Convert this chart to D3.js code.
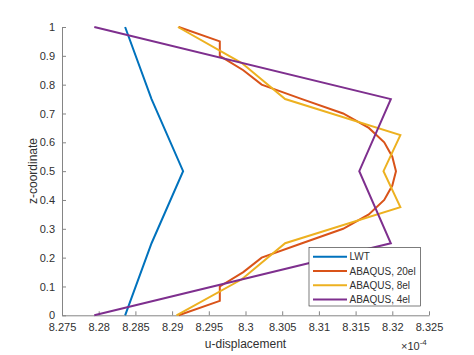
<!DOCTYPE html>
<html><head><meta charset="utf-8">
<script src="https://cdn.jsdelivr.net/npm/d3@7"></script>
<style>
html,body{margin:0;padding:0;background:#fff;}
svg{display:block;font-family:"Liberation Sans",Arial,sans-serif;}
</style></head>
<body><svg id="chart" width="474" height="355"></svg>
<script>
// Data (u-displacement in units of 1e-4)
const zLWT = [0, 0.25, 0.5, 0.75, 1];
const uLWT = [8.2836, 8.2872, 8.2915, 8.2872, 8.2836];

const z20 = [0, 0.05, 0.1, 0.15, 0.2, 0.25, 0.3, 0.35, 0.4, 0.45, 0.5, 0.55, 0.6, 0.65, 0.7, 0.75, 0.8, 0.85, 0.9, 0.95, 1];
const u20 = [8.2909, 8.2965, 8.2965, 8.2997, 8.3022, 8.3077, 8.3133, 8.3168, 8.3189, 8.3200, 8.3205, 8.3200, 8.3189, 8.3168, 8.3133, 8.3077, 8.3022, 8.2997, 8.2965, 8.2965, 8.2909];

const z8 = [0, 0.125, 0.25, 0.375, 0.5, 0.625, 0.75, 0.875, 1];
const u8 = [8.2906, 8.2995, 8.3054, 8.3211, 8.3188, 8.3211, 8.3054, 8.2995, 8.2908];

const z4 = [0, 0.25, 0.5, 0.75, 1];
const u4 = [8.2794, 8.3198, 8.3155, 8.3198, 8.2794];

const seriesNames = ["LWT", "ABAQUS, 20el", "ABAQUS, 8el", "ABAQUS, 4el"];
const seriesColors = ["#0072BD", "#D95319", "#EDB120", "#7E2F8E"];

const xTicks = [8.275, 8.28, 8.285, 8.29, 8.295, 8.3, 8.305, 8.31, 8.315, 8.32, 8.325];
const yTicks = [0, 0.1, 0.2, 0.3, 0.4, 0.5, 0.6, 0.7, 0.8, 0.9, 1];

const series = [
  {z: zLWT, u: uLWT},
  {z: z20, u: u20},
  {z: z8, u: u8},
  {z: z4, u: u4}
];

const svg = d3.select("#chart");
const pLeft = 62, pRight = 429, pTop = 27, pBottom = 315.3;
const x = d3.scaleLinear().domain([8.275, 8.325]).range([pLeft, pRight]);
const y = d3.scaleLinear().domain([0, 1]).range([pBottom, pTop]);
const axisCol = "#303030";

// Axes
const xAxis = svg.append("g").attr("transform", `translate(0,${pBottom})`)
  .call(d3.axisBottom(x).tickValues(xTicks).tickSizeInner(-4).tickSizeOuter(0).tickPadding(8).tickFormat(d => String(+d.toFixed(3))));
const yAxis = svg.append("g").attr("transform", `translate(${pLeft},0)`)
  .call(d3.axisLeft(y).tickValues(yTicks).tickSizeInner(-4).tickSizeOuter(0).tickPadding(7).tickFormat(d => String(+d.toFixed(1))));
[xAxis, yAxis].forEach(g => {
  g.select(".domain").attr("stroke", "#858585").attr("stroke-width", 1);
  g.selectAll(".tick line").attr("stroke", "#858585").attr("stroke-width", 1);
  g.selectAll(".tick text").attr("fill", axisCol).style("font-size", "11px").style("font-family", "Liberation Sans, Arial, sans-serif");
});

// Lines
const line = d3.line().x(d => x(d[0])).y(d => y(d[1]));
series.forEach((s, i) => {
  const pts = s.z.map((zz, k) => [s.u[k], zz]);
  svg.append("path").datum(pts).attr("d", line)
    .attr("fill", "none").attr("stroke", seriesColors[i]).attr("stroke-width", 2)
    .attr("stroke-linejoin", "miter");
});

// Axis labels
svg.append("text").attr("x", 245.5).attr("y", 348).attr("text-anchor", "middle")
  .attr("fill", axisCol).style("font-size", "12px").text("u-displacement");
svg.append("text").attr("transform", "translate(37,171) rotate(-90)").attr("text-anchor", "middle")
  .attr("fill", axisCol).style("font-size", "12px").text("z-coordinate");
const ex = svg.append("text").attr("x", 401).attr("y", 350).attr("fill", axisCol).style("font-size", "11px");
ex.append("tspan").text("×10");
ex.append("tspan").attr("dy", -5).style("font-size", "8px").text("-4");

// Legend
const lg = svg.append("g");
lg.append("rect").attr("x", 309).attr("y", 247.5).attr("width", 111.5).attr("height", 58.5)
  .attr("fill", "#fff").attr("stroke", "#262626").attr("stroke-width", 0.6);
seriesNames.forEach((n, i) => {
  const yy = 256.7 + i * 14.3;
  lg.append("line").attr("x1", 313).attr("x2", 347).attr("y1", yy).attr("y2", yy)
    .attr("stroke", seriesColors[i]).attr("stroke-width", 2);
  lg.append("text").attr("x", 349.5).attr("y", yy).attr("dy", "0.35em")
    .attr("fill", axisCol).style("font-size", "10px").text(n);
});
</script></body></html>
